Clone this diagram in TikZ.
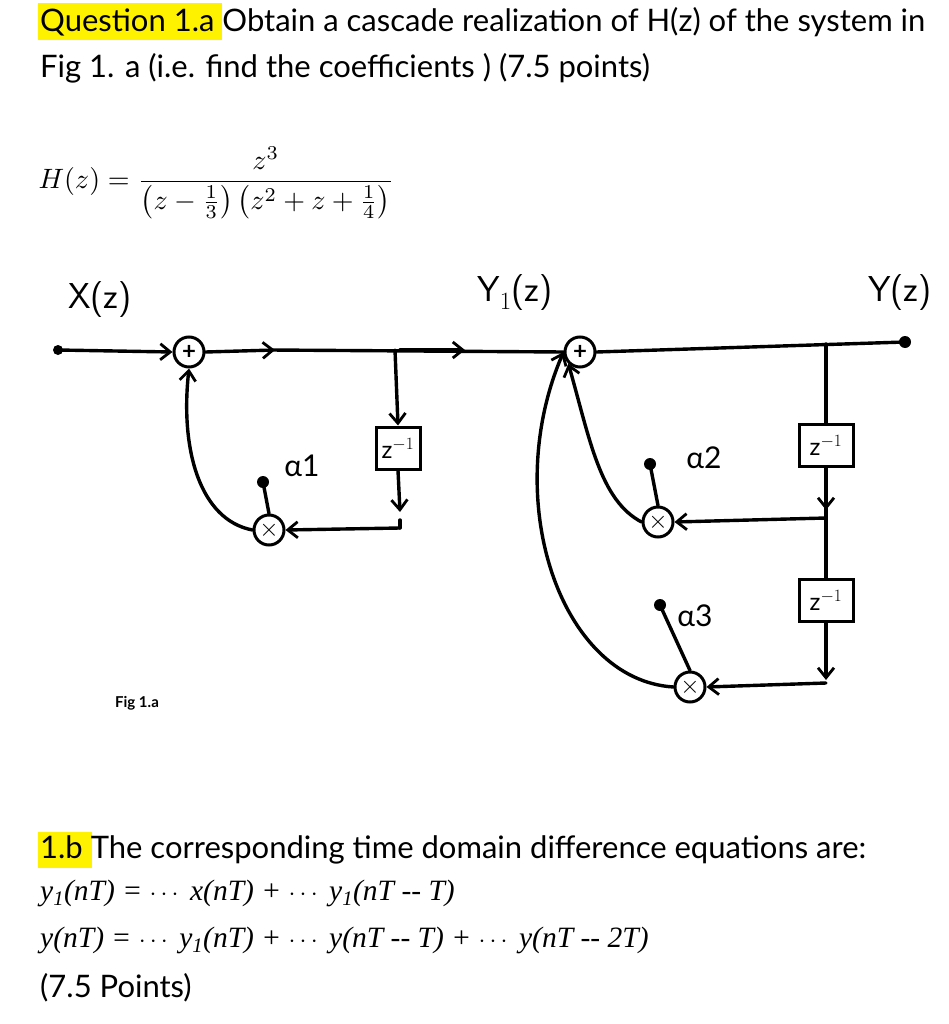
\documentclass[tikz,border=0pt]{standalone}
\usepackage{amsmath}
\usepackage{fontspec}
\setmainfont{Lato}
\newfontfamily\tnr{Liberation Serif}
\usetikzlibrary{arrows.meta,calc}
\begin{document}
\begin{tikzpicture}[x=1pt,y=-1pt,
  wire/.style={line width=3.4pt,line cap=round},
  arr/.style={wire,-{Straight Barb[length=10pt,width=16pt,line width=2.8pt]}},
  circ/.style={draw,line width=3pt,circle,minimum size=30pt,inner sep=0pt,font=\bfseries\fontsize{24}{24}\selectfont},
  dbox/.style={draw,line width=3pt,minimum width=44pt,minimum height=42pt,inner sep=0pt,font=\fontsize{24}{24}\selectfont},
  hand/.style={font=\fontsize{36}{36}\selectfont\sffamily},
  txt/.style={anchor=west,font=\fontsize{31}{36}\selectfont,inner sep=0pt},
  eqt/.style={anchor=west,font=\fontsize{29.5}{34}\selectfont\tnr\itshape,inner sep=0pt}]
\useasboundingbox (0,0) rectangle (949,1024);
\fill[white] (0,0) rectangle (949,1024);
% header
\fill[yellow] (38,3) rectangle (222,40);
\node[txt] (t1) at (40,22) {Question 1.a Obtain a cascade realization of H(z) of the system in};
\node[txt] (t2) at (40,68) {Fig 1. a (i.e. find the coefficients ) (7.5 points)};
\node[anchor=west,inner sep=0pt,scale=2.8] (hz) at (38,183) {$H(z)=\dfrac{z^3}{\left(z-\frac13\right)\left(z^2+z+\frac14\right)}$};
% diagram labels
\node[hand] (X) at (100,300) {X(z)};
\node[hand] (Y1) at (515,293) {Y$_1$(z)};
\node[hand] (Y) at (900,293) {Y(z)};
\node[font=\bfseries\fontsize{15}{15}\selectfont] (fig) at (137,703) {Fig 1.a};
% adders
\node[circ] (a1) at (189,352) {+};
\node[circ] (a2) at (580,352) {+};
\coordinate (in) at (58,350);
\fill (in) circle (5pt);
\draw[arr] (in) -- (a1.west);
\draw[arr] (a1.east) -- (275,350);
\draw[wire] (270,350) -- (a2.west);
\draw[arr] (400,350) -- (465,350);
\draw[wire] (a2.east) -- (905,342);
\coordinate (out) at (905,342);
\fill (out) circle (6pt);
% section 1
\node[dbox] (d1) at (398,448) {z$^{-1}$};
\node[circ] (m1) at (269,530) {$\times$};
\draw[arr] (395,350) -- (d1.north);
\draw[arr] (d1.south) -- (400,512);
\draw[wire] (400,520) -- (400,528);
\draw[arr] (400,528) -- (m1.east);
\coordinate (c1) at (263,482);
\fill (c1) circle (6pt);
\draw[wire] (c1) -- (m1.north);
\node[font=\fontsize{30}{30}\selectfont] (al1) at (302,466) {α1};
\draw[arr] (m1.west) .. controls (200,520) and (180,450) .. (a1.south);
% section 2
\coordinate (tap) at (826,344);
\node[dbox,minimum width=54pt] (d2) at (826,445) {z$^{-1}$};
\node[dbox,minimum width=54pt] (d3) at (826,600) {z$^{-1}$};
\node[circ] (m2) at (658,522) {$\times$};
\node[circ] (m3) at (690,687) {$\times$};
\draw[wire] (tap) -- (d2.north);
\draw[arr] (d2.south) -- (826,510);
\draw[wire] (826,505) -- (d3.north);
\draw[arr] (d3.south) -- (826,680);
\draw[arr] (826,518) -- (m2.east);
\draw[arr] (826,683) -- (m3.east);
\coordinate (c2) at (650,464);
\fill (c2) circle (6pt);
\draw[wire] (c2) -- (m2.north);
\coordinate (c3) at (660,605);
\fill (c3) circle (6pt);
\draw[wire] (c3) -- (m3.north);
\node[font=\fontsize{30}{30}\selectfont] (al2) at (704,458) {α2};
\node[font=\fontsize{30}{30}\selectfont] (al3) at (695,616) {α3};
\draw[arr] (m2.west) .. controls (600,500) and (590,440) .. (a2.south west);
\draw[arr] (m3.west) .. controls (560,680) and (500,500) .. (a2.west);
% bottom
\fill[yellow] (38,832) rectangle (92,868);
\node[txt] (b1) at (40,850) {1.b The corresponding time domain difference equations are:};
\node[eqt] (e1) at (40,893) {y\textsubscript{1}(nT) = $\cdots$ x(nT) + $\cdots$ y\textsubscript{1}(nT -- T)};
\node[eqt] (e2) at (40,940) {y(nT) = $\cdots$ y\textsubscript{1}(nT) + $\cdots$ y(nT -- T) + $\cdots$ y(nT -- 2T)};
\node[txt] (b2) at (40,988) {(7.5 Points)};
\end{tikzpicture}
\end{document}
